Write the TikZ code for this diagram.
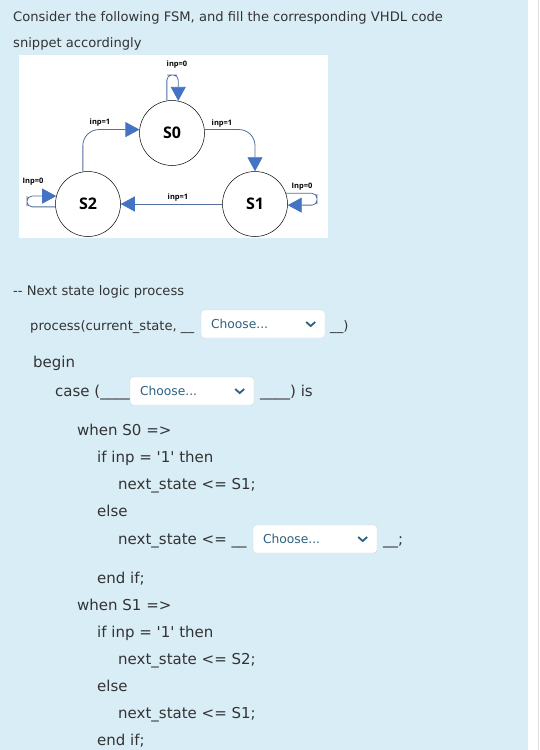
\documentclass[tikz,border=0pt]{standalone}
\usepackage{fontspec}
\setmainfont{DejaVu Sans}
\newfontfamily\diagfont{Open Sans}
\usetikzlibrary{arrows.meta,calc,positioning}

\definecolor{panelbg}{RGB}{217,237,247}
\definecolor{bodytext}{RGB}{51,51,51}
\definecolor{choosetext}{RGB}{44,98,126}
\definecolor{boxline}{RGB}{206,212,218}
\definecolor{edgeblue}{RGB}{80,110,160}
\definecolor{tipblue}{RGB}{68,114,196}

\begin{document}
\begin{tikzpicture}[
  x=1pt, y=-1pt,
  state/.style={circle, draw=black, line width=0.5pt, fill=white, minimum size=65pt, inner sep=0pt, font=\diagfont\bfseries\fontsize{16}{16}\selectfont},
  edge/.style={draw=edgeblue, line width=0.8pt, -{Triangle[length=14pt, width=15pt, color=tipblue]}},
  edge label/.style={font=\diagfont\bfseries\fontsize{7.5}{8}\selectfont, inner sep=0pt},
  question/.style={anchor=base west, text=bodytext, font=\fontsize{13.1}{15}\selectfont, inner sep=0pt},
  code/.style={anchor=base west, text=bodytext, font=\fontsize{15}{17}\selectfont, inner sep=0pt},
  dropbox/.style={draw=boxline, fill=white, rounded corners=3pt, minimum width=124pt, minimum height=28pt, text width=104pt, inner xsep=10pt, align=left, text=choosetext, font=\fontsize{12.3}{14}\selectfont},
  chevron/.style={draw=choosetext, line width=1.8pt}
]
  \useasboundingbox (0,0) rectangle (540,750);
  % page background
  \fill[panelbg] (0,0) rectangle (528,750);
  \fill[white] (528,0) rectangle (540,750);
  \draw[gray!25] (538.5,0) -- (538.5,750);
  \fill[white] (19,55) rectangle (328,238);

  % question
  \node[question] (q1) at (13,21) {Consider the following FSM, and fill the corresponding VHDL code};
  \node[question] (q2) at (13,47) {snippet accordingly};

  % FSM
  \node[state] (S0) at (172,133) {S0};
  \node[state] (S1) at (255,204) {S1};
  \node[state] (S2) at (88,204)  {S2};
  \coordinate (loop0) at (172,75);
  \coordinate (loop1) at (317,199);
  \coordinate (loop2) at (27,201);
  \draw[edge, rounded corners=5pt] (S0.99) |- (loop0) -| (S0.79);
  \draw[edge, rounded corners=16pt] (S0.6) -| (S1.north);
  \draw[edge, rounded corners=16pt] (S2.99) |- (S0.174);
  \draw[edge] (S1.west) -- (S2.east);
  \draw[edge, rounded corners=5pt] (S2.185) -| (loop2) |- (S2.166);
  \draw[edge, rounded corners=5pt] (S1.19) -| (loop1) |- (S1.358);
  \node[edge label] (l00) at (177,65)  {inp=0};
  \node[edge label] (l01) at (222,124) {inp=1};
  \node[edge label] (l20) at (100,123) {inp=1};
  \node[edge label] (l12) at (178,198) {inp=1};
  \node[edge label] (l22) at (33,182)  {Inp=0};
  \node[edge label] (l11) at (302,187) {Inp=0};

  % code snippet
  \node[question] (cmt) at (13,295) {-{}- Next state logic process};
  \node[question] (proc) at (30,330) {process(current\_state, \_\_};
  \node[dropbox] (dd1) at (263,324) {Choose...};
  \node[question] (procend) at (330,330) {\_\_)};
  \node[code] (begin) at (33,367) {begin};
  \node[code] (case) at (55,396) {case (\_\_\_\_};
  \node[dropbox] (dd2) at (192,391) {Choose...};
  \node[code] (caseend) at (260,396) {\_\_\_\_) is};
  \node[code] (when0) at (77,435) {when S0 =>};
  \node[code] (if0) at (97,462) {if inp = \textquotesingle1\textquotesingle{} then};
  \node[code] (then0) at (118,489) {next\_state <= S1;};
  \node[code] (else0) at (97,516) {else};
  \node[code] (nxt0) at (118,544) {next\_state <= \_\_};
  \node[dropbox] (dd3) at (315,539) {Choose...};
  \node[code] (nxtend) at (383,544) {\_\_;};
  \node[code] (endif0) at (97,583) {end if;};
  \node[code] (when1) at (77,610) {when S1 =>};
  \node[code] (if1) at (97,637) {if inp = \textquotesingle1\textquotesingle{} then};
  \node[code] (then1) at (118,664) {next\_state <= S2;};
  \node[code] (else1) at (97,691) {else};
  \node[code] (nxt1) at (118,718) {next\_state <= S1;};
  \node[code] (endif1) at (97,745) {end if;};
  \foreach \d in {dd1,dd2,dd3}
    \draw[chevron] ($(\d.east)+(-19,-2)$) -- ++(4.5,4) -- ++(4.5,-4);
\end{tikzpicture}
\end{document}
